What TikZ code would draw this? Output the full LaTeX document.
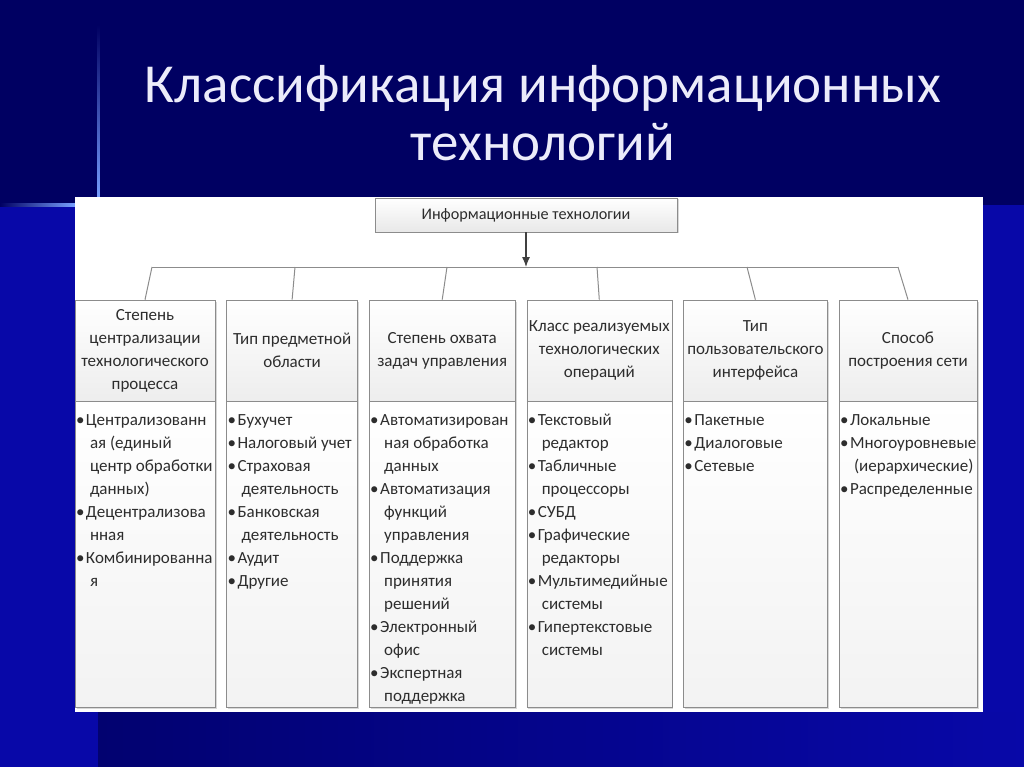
\documentclass[tikz,border=0pt]{standalone}
\usepackage{fontspec}
\setmainfont{Carlito}
\usepackage{xcolor}
\usetikzlibrary{arrows,arrows.meta}
\usetikzlibrary{positioning}
\usetikzlibrary{shadows}

\definecolor{slidenavy}{RGB}{0,0,98}
\definecolor{slideblue}{RGB}{8,8,168}
\definecolor{glow}{RGB}{120,160,255}
\definecolor{titlewhite}{RGB}{236,236,250}
\definecolor{boxline}{RGB}{140,140,140}
\definecolor{boxtext}{RGB}{45,45,45}

\newcommand{\bi}{\strut\makebox[10pt][l]{\textbullet}}
\newcommand{\ci}{\hspace*{14pt}}
\newcommand{\itemlist}[2]{\parbox[t][290pt][t]{#1}{\raggedright #2}}

\begin{document}
\begin{tikzpicture}[-,auto,node distance=11pt,semithick,x=1pt,y=-1pt]
  \tikzstyle{every node}=[font=\fontsize{17}{23}\selectfont,text=boxtext]
  \tikzstyle{topbox}=[draw=boxline,top color=white,bottom color=gray!18,inner sep=0pt,minimum width=302pt,minimum height=34pt,font=\fontsize{16.2}{20}\selectfont,drop shadow={shadow xshift=1.5pt,shadow yshift=-1.5pt,opacity=0.3}]
  \tikzstyle{headbox}=[draw=boxline,top color=white,bottom color=gray!14,inner sep=0pt,minimum height=101pt,align=center,drop shadow={shadow xshift=1.5pt,shadow yshift=-1.5pt,opacity=0.3}]
  \tikzstyle{bodybox}=[draw=boxline,top color=white,bottom color=gray!10,inner xsep=1pt,inner ysep=8pt,drop shadow={shadow xshift=1.5pt,shadow yshift=-1.5pt,opacity=0.3}]
  \tikzstyle{bar}=[draw=boxline,line width=1pt]

  \useasboundingbox (0,0) rectangle (1024,767);
  % slide background
  \fill[slideblue] (0,0) rectangle (1024,767);
  \fill[slidenavy] (0,0) rectangle (1024,205);
  \shade[left color=slidenavy!80!slideblue,right color=slideblue] (98,712) rectangle (1024,767);
  \shade[top color=slidenavy,bottom color=glow] (97,25) rectangle (99.5,200);
  \shade[left color=slidenavy,right color=glow] (0,204) rectangle (75,206.5);
  \fill[white] (75,197) rectangle (983,712);

  \node[font=\fontsize{55}{58}\selectfont,text=titlewhite,align=center] (title) at (543,113) {Классификация информационных\\технологий};

  \node[topbox] (it) at (526,215) {Информационные технологии};

  % headers
  \node[headbox,minimum width=140pt] (h1) at (145,350.5) {Степень\\централизации\\технологического\\процесса};
  \node[headbox,minimum width=131pt] (h2) [right=of h1] {Тип предметной\\области};
  \node[headbox,minimum width=146pt] (h3) [right=of h2] {Степень охвата\\задач управления};
  \node[headbox,minimum width=145pt] (h4) [right=of h3] {Класс реализуемых\\технологических\\операций};
  \node[headbox,minimum width=144pt] (h5) [right=of h4] {Тип\\пользовательского\\интерфейса};
  \node[headbox,minimum width=138pt] (h6) [right=of h5] {Способ\\построения сети};

  % lists
  \node[bodybox] (b1) [below=0pt of h1] {\itemlist{138pt}{\bi Централизованн\\\ci ая (единый\\\ci центр обработки\\\ci данных)\\\bi Децентрализова\\\ci нная\\\bi Комбинированна\\\ci я}};
  \node[bodybox] (b2) [below=0pt of h2] {\itemlist{129pt}{\bi Бухучет\\\bi Налоговый учет\\\bi Страховая\\\ci деятельность\\\bi Банковская\\\ci деятельность\\\bi Аудит\\\bi Другие}};
  \node[bodybox] (b3) [below=0pt of h3] {\itemlist{144pt}{\bi Автоматизирован\\\ci ная обработка\\\ci данных\\\bi Автоматизация\\\ci функций\\\ci управления\\\bi Поддержка\\\ci принятия\\\ci решений\\\bi Электронный\\\ci офис\\\bi Экспертная\\\ci поддержка}};
  \node[bodybox] (b4) [below=0pt of h4] {\itemlist{143pt}{\bi Текстовый\\\ci редактор\\\bi Табличные\\\ci процессоры\\\bi СУБД\\\bi Графические\\\ci редакторы\\\bi Мультимедийные\\\ci системы\\\bi Гипертекстовые\\\ci системы}};
  \node[bodybox] (b5) [below=0pt of h5] {\itemlist{142pt}{\bi Пакетные\\\bi Диалоговые\\\bi Сетевые}};
  \node[bodybox] (b6) [below=0pt of h6] {\itemlist{136pt}{\bi Локальные\\\bi Многоуровневые\\\ci (иерархические)\\\bi Распределенные}};

  % connectors
  \foreach \n/\x in {1/152,2/295,3/447,4/597,5/747,6/898}
    \coordinate (t\n) at (\x,267);
  \coordinate (bus) at (526,267);
  \draw[bar] (t1) -- (t6);
  \foreach \n in {1,...,6}
    \draw[bar] (t\n) -- (h\n.north);
  \draw[-{Latex[length=10pt,width=8pt]},draw=black!75,line width=1.2pt] (it.south) -- (bus);
\end{tikzpicture}
\end{document}
